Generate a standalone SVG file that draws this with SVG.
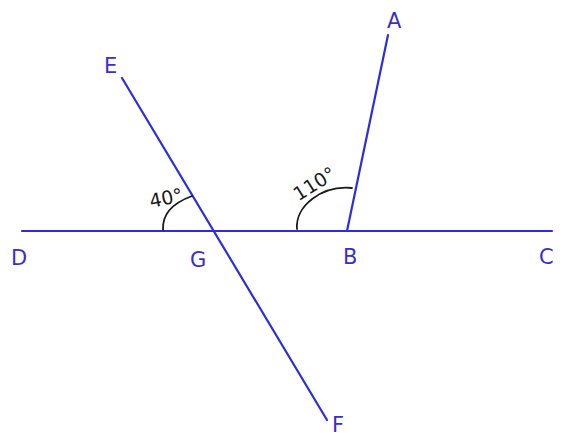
<svg xmlns="http://www.w3.org/2000/svg" width="565" height="444" viewBox="0 0 565 444">
<style>
.ln{stroke:#2d2de0;stroke-width:2.2;fill:none;stroke-linecap:round}
.arc{stroke:#1a1a1a;stroke-width:1.8;fill:none;stroke-linecap:round}
.lbl{font-family:"DejaVu Sans",sans-serif;font-size:21px;fill:#3a30c8}
.ang{font-family:"DejaVu Sans",sans-serif;font-size:19px;fill:#1a1a1a}
</style>
<rect width="565" height="444" fill="#ffffff"/>
<g id="connectors">
<line class="ln" x1="22" y1="231" x2="552" y2="231"/>
<line class="ln" x1="347" y1="231" x2="388" y2="35"/>
<line class="ln" x1="122" y1="78" x2="327" y2="420"/>
</g>
<g id="angle-40">
<path class="arc" d="M163,230 C162,214 173,203 192,196"/>
<text class="ang" x="149" y="206" transform="rotate(-12 160 198)">40°</text>
</g>
<g id="angle-110">
<path class="arc" d="M297,229 C295,206 322,185 352,188"/>
<text class="ang" x="292" y="197" transform="rotate(-32 303 188)">110°</text>
</g>
<g id="E"><text class="lbl" x="104" y="73">E</text></g>
<g id="A"><text class="lbl" x="387" y="28">A</text></g>
<g id="D"><text class="lbl" x="11" y="265">D</text></g>
<g id="G"><text class="lbl" x="190" y="267">G</text></g>
<g id="B"><text class="lbl" x="343" y="264">B</text></g>
<g id="C"><text class="lbl" x="539" y="264">C</text></g>
<g id="F"><text class="lbl" x="332" y="432">F</text></g>
</svg>
